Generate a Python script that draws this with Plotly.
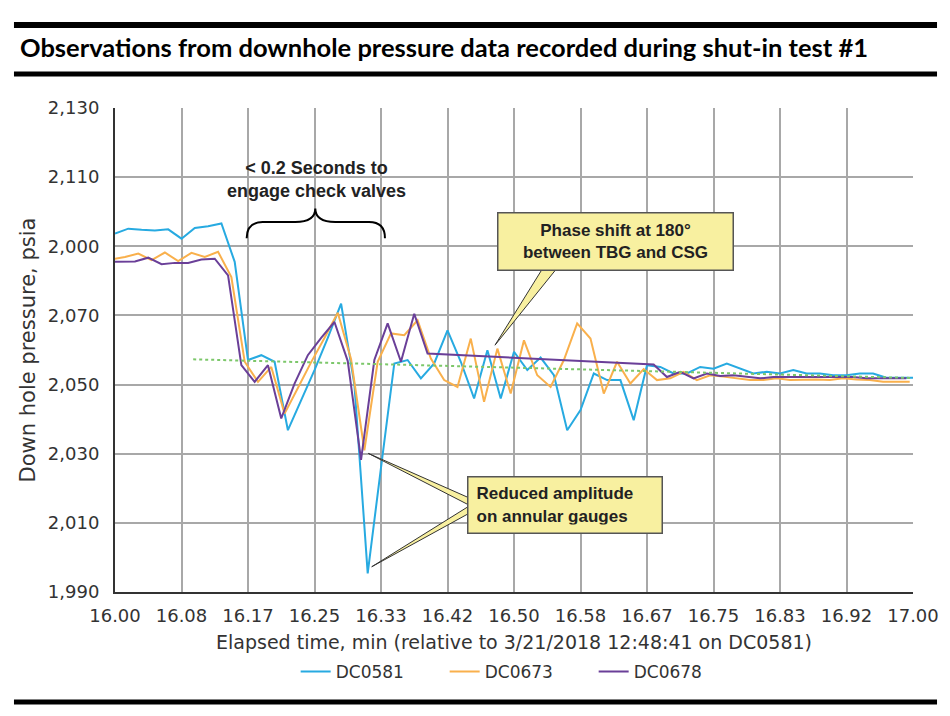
import plotly.graph_objects as go

# sample clock: one reading per second over the minute 16.00 -> 17.00
elapsed_s = list(range(61))

# clock offset of each gauge relative to DC0581 (seconds)
offset_0581 = 0.0
offset_0673 = -0.25
offset_0678 = -0.5

# down hole pressure (axis units)
p_0581 = [2093.7, 2095.1, 2094.8, 2094.6, 2094.9, 2092.2, 2095.3, 2095.8, 2096.6, 2085.5,
          2057.1, 2058.5, 2056.6, 2036.8, 2045.5, 2054.2, 2063.5, 2073.4, 2050.0, 1995.4,
          2026.0, 2056.1, 2057.1, 2051.8, 2056.1, 2065.7, 2056.6, 2046.0, 2059.9, 2046.0,
          2059.5, 2054.2, 2057.8, 2052.7, 2036.8, 2042.6, 2053.2, 2051.3, 2051.3, 2039.7,
          2055.6, 2055.1, 2053.2, 2053.2, 2055.1, 2054.6, 2056.1, 2054.6, 2053.2, 2053.7,
          2053.2, 2054.2, 2053.2, 2053.2, 2052.7, 2052.7, 2053.2, 2053.2, 2052.0, 2052.0,
          2052.0]

p_0673 = [2086.2, 2086.9, 2087.9, 2086.0, 2088.2, 2085.7, 2088.1, 2086.9, 2088.4, 2081.1,
          2056.6, 2050.8, 2055.1, 2041.6, 2049.0, 2056.5, 2063.5, 2070.8, 2057.3, 2031.0,
          2056.6, 2064.8, 2064.3, 2068.6, 2057.5, 2051.3, 2049.3, 2063.3, 2045.0, 2060.4,
          2047.4, 2062.8, 2052.7, 2049.3, 2057.1, 2067.7, 2063.3, 2047.4, 2056.6, 2050.3,
          2054.5, 2051.3, 2051.8, 2053.7, 2051.3, 2052.7, 2052.3, 2051.8, 2051.3, 2051.3,
          2051.8, 2051.3, 2051.5, 2051.5, 2051.3, 2051.8, 2051.5, 2051.3, 2050.8, 2050.8,
          2050.8]

# DC0678 has no readings between 25 s and 40 s (drawn connected)
p_0678 = [2085.5, 2085.5, 2085.6, 2086.7, 2084.8, 2085.2, 2085.2, 2086.2, 2086.4, 2081.6,
          2055.6, 2050.8, 2055.6, 2040.2, 2050.3, 2058.5, 2063.5, 2068.1, 2056.8, 2028.2,
          2057.1, 2067.7, 2056.6, 2070.5, 2059.0, None, None, None, None, None,
          None, None, None, None, None, None, None, None, None, None,
          None, 2055.8, 2052.2, 2053.7, 2051.8, 2053.2, 2052.5, 2052.7, 2052.2, 2051.8,
          2052.2, 2052.2, 2052.2, 2052.2, 2052.2, 2052.2, 2052.2, 2051.8, 2051.8, 2051.8,
          2051.8]

# settling trend (green dotted)
trend_t = [16.098, 17.0]
trend_p = [2057.3, 2051.9]

x_tickvals = [16 + k / 12 for k in range(13)]
x_ticktext = ["16.00", "16.08", "16.17", "16.25", "16.33", "16.42", "16.50",
              "16.58", "16.67", "16.75", "16.83", "16.92", "17.00"]
y_tickvals = [1990, 2010, 2030, 2050, 2070, 2090, 2110, 2130]
y_ticktext = ["1,990", "2,010", "2,030", "2,050", "2,070", "2,000", "2,110", "2,130"]

series = [
    ("DC0581", "#27aae1", offset_0581, p_0581),
    ("DC0673", "#f9b04c", offset_0673, p_0673),
    ("DC0678", "#6a3f98", offset_0678, p_0678),
]

fig = go.Figure()
for name, color, off, vals in series:
    fig.add_trace(go.Scatter(
        x=[16 + (s + off) / 60 for s in elapsed_s], y=vals, name=name,
        mode="lines", line=dict(color=color, width=2), connectgaps=True))

fig.add_trace(go.Scatter(x=trend_t, y=trend_p, mode="lines", showlegend=False,
                         line=dict(color="#7cc76a", width=2, dash="dot")))

# page has an 8px body margin all round, so keep the figure inside the window
axis_font = dict(family="DejaVu Sans", size=18, color="#333")
fig.update_layout(
    width=934, height=700,
    margin=dict(l=107, r=29, t=100, b=116),
    paper_bgcolor="white", plot_bgcolor="white",
    font=dict(family="DejaVu Sans", color="#333"),
    xaxis=dict(range=[16, 17], tickvals=x_tickvals, ticktext=x_ticktext,
               automargin=False,
               showgrid=True, gridcolor="#a8a8a8", gridwidth=2, zeroline=False,
               showline=True, linecolor="#333", linewidth=2, ticks="",
               tickfont=axis_font, ticklabelstandoff=6,
               title=dict(text="Elapsed time, min (relative to 3/21/2018 12:48:41 on DC0581)",
                          font=dict(family="DejaVu Sans", size=19, color="#333"),
                          standoff=11)),
    yaxis=dict(range=[1990, 2130], tickvals=y_tickvals, ticktext=y_ticktext,
               automargin=False,
               showgrid=True, gridcolor="#a8a8a8", gridwidth=2, zeroline=False,
               showline=True, linecolor="#333", linewidth=2, ticks="",
               tickfont=axis_font, ticklabelstandoff=10,
               title=dict(text="Down hole pressure, psia",
                          font=dict(family="DejaVu Sans", size=21, color="#333"),
                          standoff=7)),
    legend=dict(orientation="h", x=0.2264, xanchor="left", y=-0.165, yanchor="middle",
                font=dict(family="DejaVu Sans", size=17, color="#333"),
                itemwidth=30, entrywidth=104, entrywidthmode="pixels",
                bgcolor="rgba(0,0,0,0)"),
)

# black rules above/below title and at the bottom
for yp, w in [(1.1715, 6), (1.0702, 5), (-0.2273, 5)]:
    fig.add_shape(type="line", xref="paper", yref="paper", x0=-0.1266, x1=1.0301,
                  y0=yp, y1=yp, line=dict(color="black", width=w))

fig.add_annotation(xref="paper", yref="paper", x=-0.1216, y=1.126, xanchor="left",
                   yanchor="middle", showarrow=False,
                   text="<b>Observations from downhole pressure data recorded during shut-in test #1</b>",
                   font=dict(family="Lato", size=25.5, color="black"))

# curly brace
bx0, bx1, bxm = 16.165, 16.3383, 16.251
by_end, by_flat, by_top = 2092.3, 2097.0, 2100.9
d1, d2 = 0.02, 0.025
brace = (f"M {bx0},{by_end} Q {bx0},{by_flat} {bx0 + d1},{by_flat} "
         f"L {bxm - d2},{by_flat} Q {bxm},{by_flat} {bxm},{by_top} "
         f"Q {bxm},{by_flat} {bxm + d2},{by_flat} "
         f"L {bx1 - d1},{by_flat} Q {bx1},{by_flat} {bx1},{by_end}")
fig.add_shape(type="path", xref="x", yref="y", path=brace, layer="above",
              line=dict(color="black", width=2))

note_font = dict(family="Liberation Sans", size=17, color="#222")
fig.add_annotation(x=16.2531, y=2109.4, showarrow=False,
                   text="<b>< 0.2 Seconds to<br>engage check valves</b>",
                   font=dict(family="Liberation Sans", size=18, color="#222"))

# callout pointers
yellow = "#f8f0a0"
pointers = [
    "M 16.4762,2061.4 L 16.5351,2083.3 L 16.5526,2083.3 Z",
    "M 16.3174,2030.1 L 16.4440,2017.2 L 16.4440,2015.1 Z",
    "M 16.3217,1997.3 L 16.4440,2014.9 L 16.4440,2012.8 Z",
]
for pth in pointers:
    fig.add_shape(type="path", xref="x", yref="y", path=pth, layer="above",
                  fillcolor=yellow, line=dict(color="#333", width=1))

fig.add_annotation(x=16.6278, y=2091.45, showarrow=False, width=218, height=40,
                   borderpad=8, bgcolor=yellow, bordercolor="#555", borderwidth=1.5,
                   text="<b>Phase shift at 180°<br>between TBG and CSG</b>", font=note_font)
fig.add_annotation(x=16.5645, y=2015.29, showarrow=False, width=177, height=39,
                   borderpad=8, bgcolor=yellow, bordercolor="#555", borderwidth=1.5,
                   align="left",
                   text="<b>Reduced amplitude<br>on annular gauges</b>", font=note_font)

fig.write_html("out.html")
